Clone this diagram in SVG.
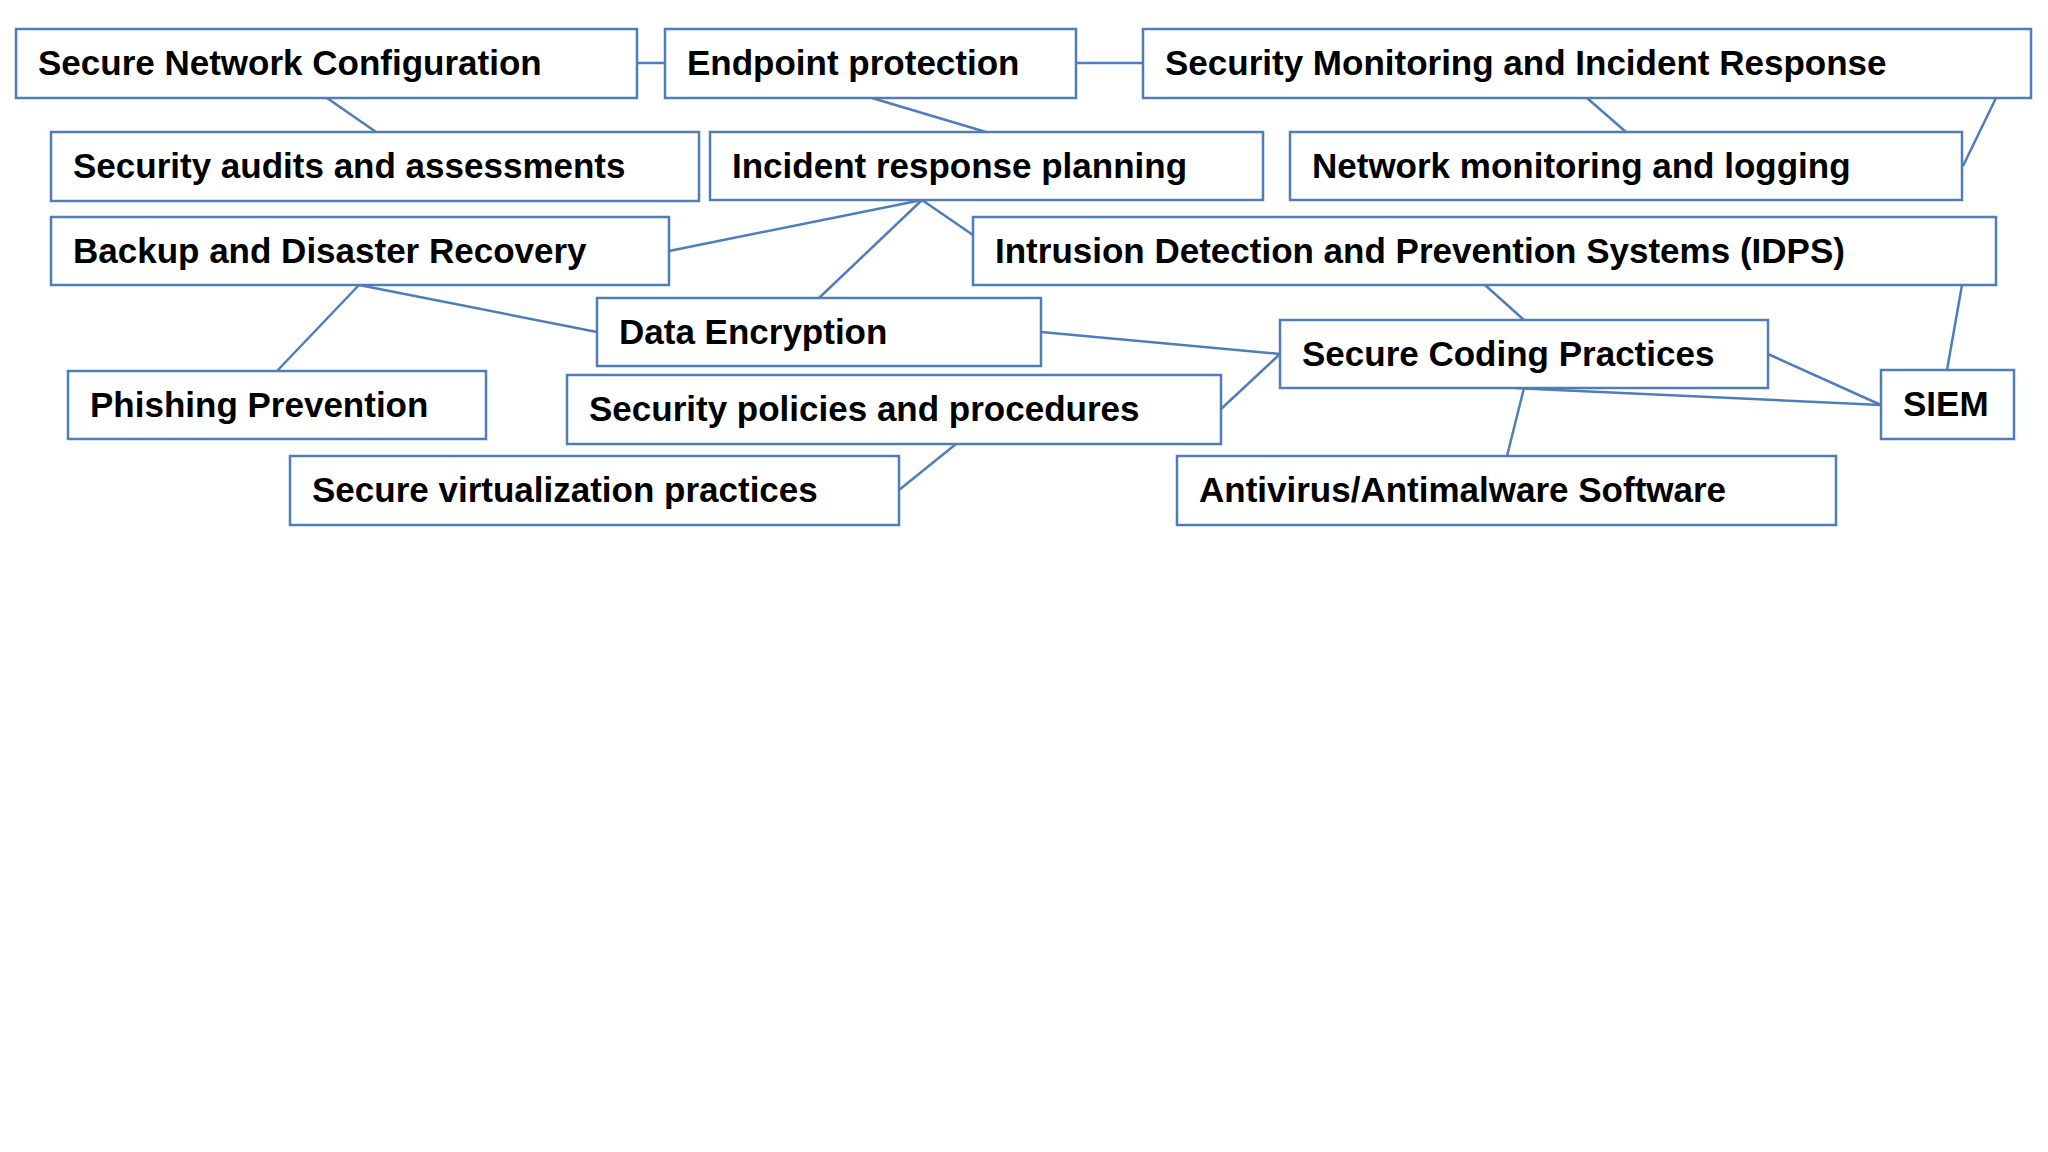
<svg xmlns="http://www.w3.org/2000/svg" width="2048" height="1152" viewBox="0 0 2048 1152">
<style>
rect{fill:#fff;stroke:#4f7dba;stroke-width:2.5}
line{stroke:#4f7dba;stroke-width:2.5}
text{font-family:"Liberation Sans",Arial,sans-serif;font-weight:bold;font-size:35px;fill:#000}
</style>
<rect x="0" y="0" width="2048" height="1152" style="stroke:none"/>
<g id="connectors">
<line x1="637" y1="63" x2="665" y2="63"/>
<line x1="1076" y1="63" x2="1143" y2="63"/>
<line x1="327" y1="98" x2="376" y2="132"/>
<line x1="872" y1="98" x2="986" y2="132"/>
<line x1="1587" y1="98" x2="1626" y2="132"/>
<line x1="1996" y1="98" x2="1963" y2="166"/>
<line x1="922" y1="200" x2="669" y2="251"/>
<line x1="922" y1="200" x2="819" y2="298"/>
<line x1="922" y1="200" x2="973" y2="235"/>
<line x1="359" y1="285" x2="277" y2="371"/>
<line x1="359" y1="285" x2="597" y2="332"/>
<line x1="1041" y1="332" x2="1280" y2="354"/>
<line x1="1280" y1="354" x2="1221" y2="409"/>
<line x1="1485" y1="285" x2="1524" y2="320"/>
<line x1="1962" y1="285" x2="1947" y2="370"/>
<line x1="1768" y1="354" x2="1881" y2="405"/>
<line x1="1515" y1="388" x2="1881" y2="405"/>
<line x1="1524" y1="388" x2="1507" y2="456"/>
<line x1="956" y1="444" x2="899" y2="490"/>
</g>
<g id="n1"><rect x="16" y="29" width="621" height="69"/><text x="38" y="75">Secure Network Configuration</text></g>
<g id="n2"><rect x="665" y="29" width="411" height="69"/><text x="687" y="75">Endpoint protection</text></g>
<g id="n3"><rect x="1143" y="29" width="888" height="69"/><text x="1165" y="75">Security Monitoring and Incident Response</text></g>
<g id="n4"><rect x="51" y="132" width="648" height="69"/><text x="73" y="178">Security audits and assessments</text></g>
<g id="n5"><rect x="710" y="132" width="553" height="68"/><text x="732" y="178">Incident response planning</text></g>
<g id="n6"><rect x="1290" y="132" width="672" height="68"/><text x="1312" y="178">Network monitoring and logging</text></g>
<g id="n7"><rect x="51" y="217" width="618" height="68"/><text x="73" y="263">Backup and Disaster Recovery</text></g>
<g id="n8"><rect x="973" y="217" width="1023" height="68"/><text x="995" y="263">Intrusion Detection and Prevention Systems (IDPS)</text></g>
<g id="n9"><rect x="597" y="298" width="444" height="68"/><text x="619" y="344">Data Encryption</text></g>
<g id="n10"><rect x="1280" y="320" width="488" height="68"/><text x="1302" y="366">Secure Coding Practices</text></g>
<g id="n11"><rect x="1881" y="370" width="133" height="69"/><text x="1903" y="416">SIEM</text></g>
<g id="n12"><rect x="68" y="371" width="418" height="68"/><text x="90" y="417">Phishing Prevention</text></g>
<g id="n13"><rect x="567" y="375" width="654" height="69"/><text x="589" y="421">Security policies and procedures</text></g>
<g id="n14"><rect x="290" y="456" width="609" height="69"/><text x="312" y="502">Secure virtualization practices</text></g>
<g id="n15"><rect x="1177" y="456" width="659" height="69"/><text x="1199" y="502">Antivirus/Antimalware Software</text></g>
</svg>
